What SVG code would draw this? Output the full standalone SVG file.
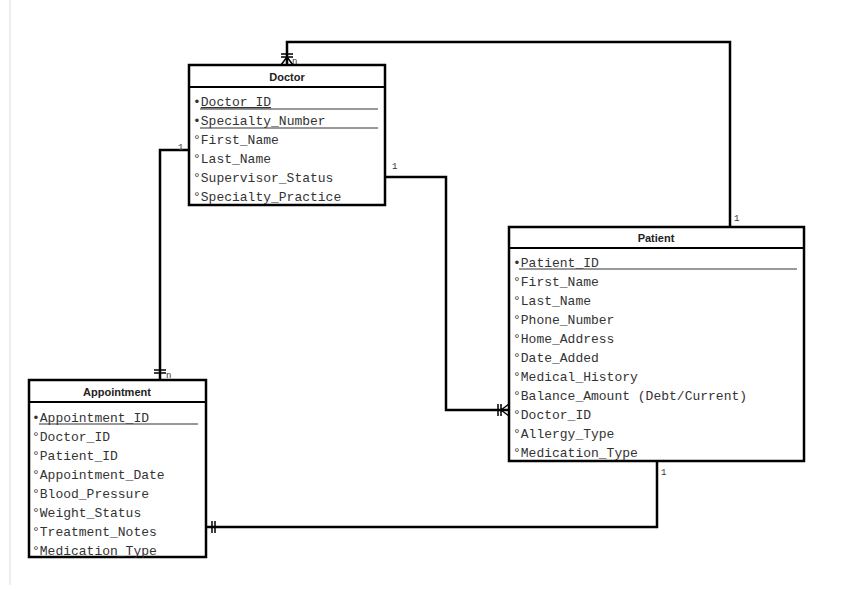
<svg xmlns="http://www.w3.org/2000/svg" width="850" height="589" viewBox="0 0 850 589">
<style>
.box{fill:#fff;stroke:#000;stroke-width:2.5}
.hl{stroke:#000;stroke-width:2}
.t{font-family:"Liberation Sans",Arial,sans-serif;font-weight:bold;font-size:11px;text-anchor:middle;fill:#222}
.a{font-family:"Liberation Mono","Courier New",monospace;font-size:13px;fill:#333}
.u{stroke:#333;stroke-width:1}
.c{fill:none;stroke:#000;stroke-width:2.5}
.m{fill:none;stroke:#000;stroke-width:1.5}
.l{font-family:"Liberation Mono",monospace;font-size:9px;fill:#333}
</style>
<rect width="850" height="589" fill="#fff"/>
<line x1="10" y1="0" x2="10" y2="585" stroke="#ddd" stroke-width="1"/>
<g id="connectors">
<polyline class="c" points="730,227 730,42 287,42 287,65"/>
<path class="m" d="M281,57 H293 M281,54 H293 M287,57 L281,65 M287,57 L293,65"/>
<text class="l" x="292" y="64">n</text>
<text class="l" x="734" y="221">1</text>
<polyline class="c" points="385,177 446,177 446,410 509,410"/>
<path class="m" d="M501,404 V416 M498,404 V416 M501,410 L509,404 M501,410 L509,416"/>
<text class="l" x="392" y="169">1</text>
<polyline class="c" points="189,150 160,150 160,380"/>
<path class="m" d="M154,370 H166 M154,373 H166"/>
<text class="l" x="166" y="378">n</text>
<text class="l" x="178" y="150">1</text>
<polyline class="c" points="657,461 657,527 206,527"/>
<path class="m" d="M212,521 V533 M215,521 V533"/>
<text class="l" x="661" y="475">1</text>
</g>
<g id="doctor">
<rect class="box" x="189" y="65" width="196" height="140"/>
<line class="hl" x1="189" y1="87" x2="385" y2="87"/>
<text class="t" x="287" y="81">Doctor</text>
<g class="a">
<text x="193" y="106">•<tspan text-decoration="underline">Doctor_ID</tspan></text>
<text x="193" y="125">•<tspan>Specialty_Number</tspan></text>
<text x="193" y="144">°First_Name</text>
<text x="193" y="163">°Last_Name</text>
<text x="193" y="182">°Supervisor_Status</text>
<text x="193" y="201">°Specialty_Practice</text>
</g>
<line class="u" x1="200" y1="109" x2="378" y2="109"/>
<line class="u" x1="200" y1="128" x2="378" y2="128"/>
</g>
<g id="patient">
<rect class="box" x="509" y="227" width="295" height="234"/>
<line class="hl" x1="509" y1="248" x2="804" y2="248"/>
<text class="t" x="656" y="242">Patient</text>
<g class="a">
<text x="513" y="267">•Patient_ID</text>
<text x="513" y="286">°First_Name</text>
<text x="513" y="305">°Last_Name</text>
<text x="513" y="324">°Phone_Number</text>
<text x="513" y="343">°Home_Address</text>
<text x="513" y="362">°Date_Added</text>
<text x="513" y="381">°Medical_History</text>
<text x="513" y="400">°Balance_Amount (Debt/Current)</text>
<text x="513" y="419">°Doctor_ID</text>
<text x="513" y="438">°Allergy_Type</text>
<text x="513" y="457">°Medication_Type</text>
</g>
<line class="u" x1="519" y1="269" x2="797" y2="269"/>
</g>
<g id="appointment">
<rect class="box" x="29" y="380" width="177" height="177"/>
<line class="hl" x1="29" y1="402" x2="206" y2="402"/>
<text class="t" x="117" y="396">Appointment</text>
<g class="a">
<text x="32" y="422">•Appointment_ID</text>
<text x="32" y="441">°Doctor_ID</text>
<text x="32" y="460">°Patient_ID</text>
<text x="32" y="479">°Appointment_Date</text>
<text x="32" y="498">°Blood_Pressure</text>
<text x="32" y="517">°Weight_Status</text>
<text x="32" y="536">°Treatment_Notes</text>
<text x="32" y="555">°Medication_Type</text>
</g>
<line class="u" x1="39" y1="424" x2="198" y2="424"/>
</g>
</svg>
